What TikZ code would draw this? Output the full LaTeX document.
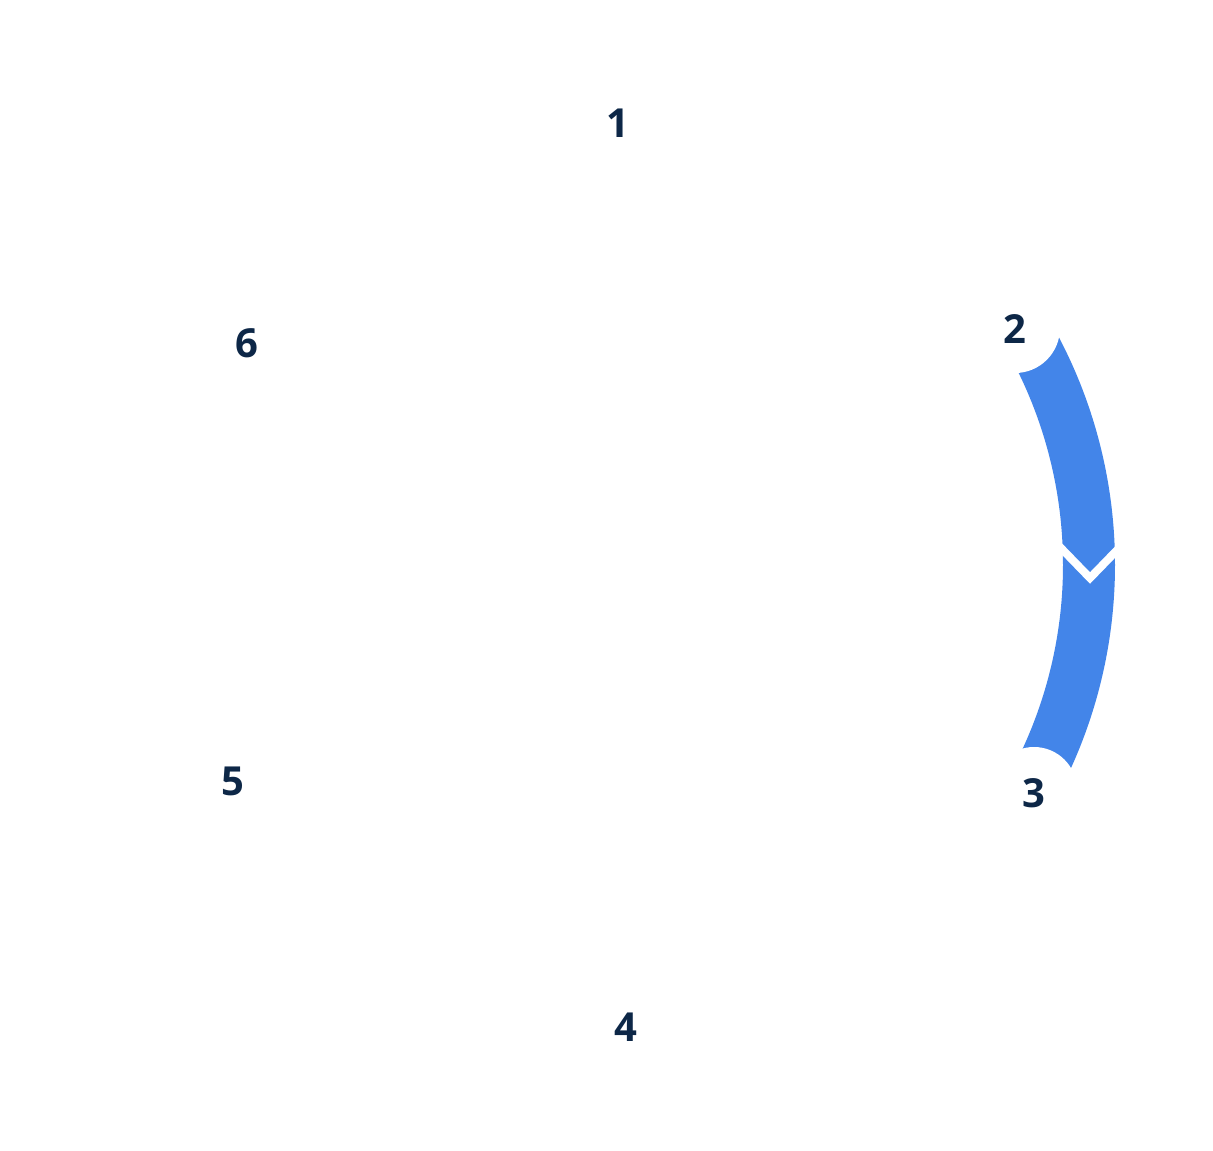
\documentclass[tikz,border=0pt]{standalone}
\usepackage{fontspec}
\setmainfont{Open Sans}
\begin{document}
\begin{tikzpicture}[x=1pt,y=-1pt,
  num/.style={font=\fontsize{40}{40}\selectfont\bfseries, text=navy},
  band/.style={draw=blueband, line width=52pt}]
\definecolor{navy}{HTML}{0D2747}
\definecolor{blueband}{HTML}{4385E9}
\useasboundingbox (0,0) rectangle (1213,1151);
\coordinate (c) at (625,565);
\draw[band] (c) ++(-30:464) arc[start angle=-30, end angle=30, radius=464];
\fill[white] (1015,328) circle[radius=45];
\fill[white] (1034,790) circle[radius=43];
\draw[white, line width=8pt, line cap=butt] (1058,545) -- (1090,578) -- (1122,545);
\node[num] (n1) at (618,123) {1};
\node[num] (n2) at (1015,329) {2};
\node[num] (n3) at (1034,793) {3};
\node[num] (n4) at (626,1027) {4};
\node[num] (n5) at (233,781) {5};
\node[num] (n6) at (247,343) {6};
\end{tikzpicture}
\end{document}
